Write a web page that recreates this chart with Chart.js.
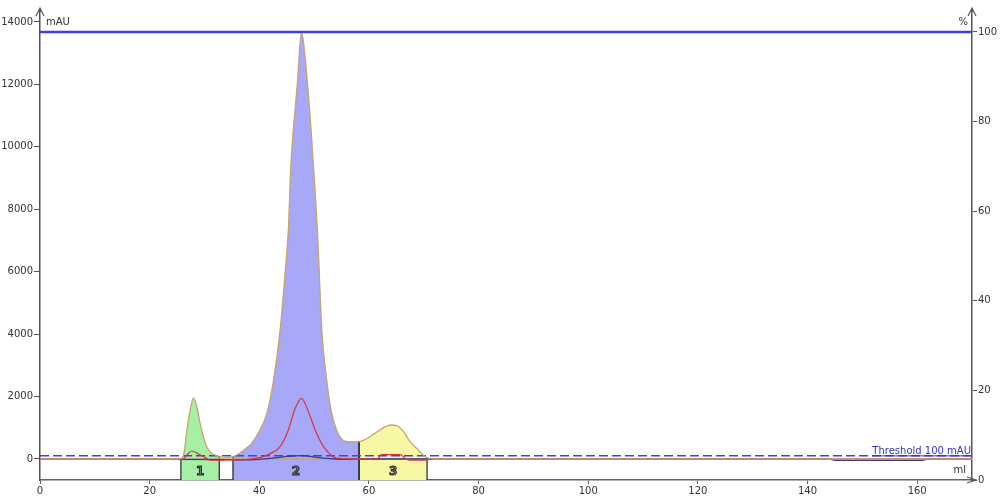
<!DOCTYPE html>
<html>
<head>
<meta charset="utf-8">
<script src="https://cdn.jsdelivr.net/npm/chart.js@4"></script>
<style>
  html, body { margin: 0; padding: 0; background: #fff; }
  #wrap { width: 1004px; height: 501px; }
</style>
</head>
<body>
<div id="wrap"><canvas id="myChart"></canvas></div>
<script>
// UV curve (mAU) against volume (ml)
const uvX = [0, 10, 20, 25, 25.7, 26.2, 26.8, 27.4, 28, 28.6, 29.2, 29.8, 30.4, 31.3, 32.2, 32.7, 33.5, 34.3,
  35.2, 36.5, 37.5, 38.6, 40.1, 41.4, 42.6, 43.8, 44.6, 45.3, 45.75, 46.95, 47.7, 48.78, 49.9, 50.75, 51.0,
  51.4, 52.3, 53.2, 54.1, 55.0, 55.8, 57, 58.2, 60.2, 62.0, 63.9, 65.1, 66.3, 67.5, 68.7, 69.9, 70.6, 72, 100, 170];
const uvY = [0, 0, 0, 0, 20, 128, 929, 1570, 1960, 1676, 1144, 714, 394, 183, 110, 80, 60, 55,
  75, 192, 330, 503, 929, 1474, 2531, 4133, 5735, 7337, 9355, 12050, 13680, 12050, 9355, 6800, 5700,
  4133, 2531, 1474, 929, 640, 560, 550, 554, 714, 929, 1089, 1067, 875, 554, 342, 128, 40, 0, 0, 0];

// second signal (red)
const redX = [0, 25, 26, 26.8, 27.7, 28.9, 30.4, 31, 33, 34, 36, 38, 40.7, 42.5, 43.8, 45.3, 46.5, 47.7, 49,
  50.2, 51.7, 53.5, 55, 58, 61.5, 62.3, 65.7, 66.6, 67.5, 70, 71, 170];
const redY = [0, 0, -10, 128, 256, 160, 20, -40, -40, -30, -30, -10, 75, 220, 394, 929, 1600, 1945, 1500,
  929, 394, 75, 10, 0, 0, 140, 140, 20, -40, -40, 0, 0];

// third signal (dark)
const darkX = [0, 35, 38, 42, 47.4, 52, 55, 60, 144, 145, 161, 162, 170];
const darkY = [0, -20, -30, 20, 106, 20, -10, 0, 0, -40, -40, 0, 0];

// concentration (%)
const concX = [0, 170];
const concY = [100, 100];

// fractions
const fracNames = ["1", "2", "3"];
const fracStart = [25.7, 35.2, 58.2];
const fracEnd = [32.7, 58.2, 70.6];
const fracColors = ["#a6f0a6", "#a8a8f8", "#f8f8a4"];

const threshold = 100;
const thresholdText = "Threshold 100 mAU";

// ticks
const xTicks = [0, 20, 40, 60, 80, 100, 120, 140, 160];
const yTicks = [0, 2000, 4000, 6000, 8000, 10000, 12000, 14000];
const y1Ticks = [0, 20, 40, 60, 80, 100];

const yMin = -673, yMax = 14320;
const FONT = "DejaVu Sans";

const pts = (xs, ys) => xs.map((x, i) => ({ x: x, y: ys[i] }));
const uvPts = pts(uvX, uvY);
const uvAt = (x) => uvY[uvX.indexOf(x)];

const datasets = [];
fracNames.forEach((n, i) => {
  datasets.push({
    data: uvPts.filter(p => p.x >= fracStart[i] && p.x <= fracEnd[i]),
    borderWidth: 0,
    backgroundColor: fracColors[i],
    fill: "start",
    cubicInterpolationMode: "monotone",
    order: 20,
  });
  datasets.push({
    data: [
      { x: fracStart[i], y: yMin }, { x: fracStart[i], y: uvAt(fracStart[i]) },
      { x: (fracStart[i] + fracEnd[i]) / 2, y: null },
      { x: fracEnd[i], y: uvAt(fracEnd[i]) }, { x: fracEnd[i], y: yMin },
    ],
    borderColor: "#222",
    borderWidth: 1.2,
    spanGaps: false,
    fill: false,
    order: 15,
  });
});
datasets.push({
  data: [{ x: 0, y: threshold }, { x: 170, y: threshold }],
  borderColor: "#3f3ff0",
  borderWidth: 1.5,
  borderDash: [9, 4],
  fill: false,
  order: 8,
});
datasets.push({
  data: [{ x: 0, y: 0 }, { x: 170, y: 0 }],
  borderColor: "#c9a46a",
  borderWidth: 1.5,
  fill: false,
  order: 7,
});
datasets.push({
  data: pts(darkX, darkY),
  borderColor: "#3b3b80",
  borderWidth: 1.3,
  cubicInterpolationMode: "monotone",
  fill: false,
  order: 6,
});
datasets.push({
  data: pts(redX, redY),
  borderColor: "#e0303c",
  borderWidth: 1.2,
  cubicInterpolationMode: "monotone",
  fill: false,
  order: 5,
});
datasets.push({
  data: uvPts,
  borderColor: "#c9a46a",
  borderWidth: 1.3,
  cubicInterpolationMode: "monotone",
  fill: false,
  order: 4,
});
datasets.push({
  data: pts(concX, concY),
  yAxisID: "y1",
  borderColor: "#3c3cf0",
  borderWidth: 2.5,
  fill: false,
  order: 1,
});

const extras = {
  id: "extras",
  afterDraw(chart) {
    const c = chart.ctx, a = chart.chartArea;
    const xs = chart.scales.x, ys = chart.scales.y;
    c.save();
    c.strokeStyle = "#555";
    c.lineWidth = 1.2;
    // arrows
    [a.left, a.right].forEach(px => {
      c.beginPath();
      c.moveTo(px, a.top); c.lineTo(px, a.top - 4);
      c.moveTo(px - 4, a.top + 4); c.lineTo(px, a.top - 4); c.lineTo(px + 4, a.top + 4);
      c.stroke();
    });
    c.beginPath();
    c.moveTo(a.right, a.bottom); c.lineTo(a.right + 4, a.bottom);
    c.moveTo(a.right - 5, a.bottom - 3); c.lineTo(a.right + 4, a.bottom); c.lineTo(a.right - 5, a.bottom + 3);
    c.stroke();

    c.fillStyle = "#333";
    c.font = "10px '" + FONT + "'";
    c.textBaseline = "middle";
    c.textAlign = "left";
    c.fillText("mAU", a.left + 6, ys.getPixelForValue(14000));
    c.textAlign = "right";
    c.fillText("%", a.right - 4, ys.getPixelForValue(14000));
    c.fillText("ml", a.right - 6, a.bottom - 10);

    // threshold label
    c.fillStyle = "#3232c8";
    c.strokeStyle = "#3232c8";
    c.lineWidth = 1;
    c.textBaseline = "alphabetic";
    const ty = ys.getPixelForValue(threshold) - 2;
    c.fillText(thresholdText, a.right - 1, ty);
    const w = c.measureText(thresholdText).width;
    c.beginPath();
    c.moveTo(a.right - 1 - w, ty + 2); c.lineTo(a.right - 1, ty + 2);
    c.stroke();

    // fraction labels
    c.font = "bold 12px 'DejaVu Sans'";
    c.textAlign = "center";
    c.textBaseline = "middle";
    c.fillStyle = "#777";
    c.strokeStyle = "#222";
    c.lineWidth = 0.9;
    const ly = (ys.getPixelForValue(0) + a.bottom) / 2 + 2;
    fracNames.forEach((n, i) => {
      const lx = xs.getPixelForValue((fracStart[i] + fracEnd[i]) / 2);
      c.fillText(n, lx, ly);
      c.strokeText(n, lx, ly);
    });
    c.restore();
  },
};

const tickFont = { family: FONT, size: 10 };
const plain = v => String(v);
const ctx = document.getElementById("myChart").getContext("2d");
const myChart = new Chart(ctx, {
  type: "line",
  data: { datasets: datasets },
  options: {
    responsive: true,
    maintainAspectRatio: false,
    animation: false,
    elements: { point: { radius: 0 } },
    layout: { padding: { top: 12, left: 0, right: 0, bottom: 0 } },
    plugins: { legend: { display: false }, tooltip: { enabled: false } },
    scales: {
      x: {
        type: "linear",
        min: 0,
        max: 170,
        afterFit: s => { s.height = 21; },
        afterBuildTicks: s => { s.ticks = xTicks.map(v => ({ value: v })); },
        grid: { drawOnChartArea: false, tickLength: 4, color: "#666" },
        border: { color: "#666", width: 1.5 },
        ticks: { font: tickFont, color: "#333", padding: 1, maxRotation: 0, callback: plain },
      },
      y: {
        position: "left",
        min: yMin,
        max: yMax,
        afterFit: s => { s.width = 40; },
        afterBuildTicks: s => { s.ticks = yTicks.map(v => ({ value: v })); },
        grid: { drawOnChartArea: false, tickLength: 6, color: "#555" },
        border: { color: "#5b4b4b", width: 1.5 },
        ticks: { font: tickFont, color: "#333", padding: 1, callback: plain },
      },
      y1: {
        position: "right",
        min: 0,
        max: 104.46,
        afterFit: s => { s.width = 32; },
        afterBuildTicks: s => { s.ticks = y1Ticks.map(v => ({ value: v })); },
        grid: { drawOnChartArea: false, tickLength: 5, color: "#555" },
        border: { color: "#555", width: 1.5 },
        ticks: { font: tickFont, color: "#333", padding: 1, callback: plain },
      },
    },
  },
  plugins: [extras],
});
</script>
</body>
</html>
